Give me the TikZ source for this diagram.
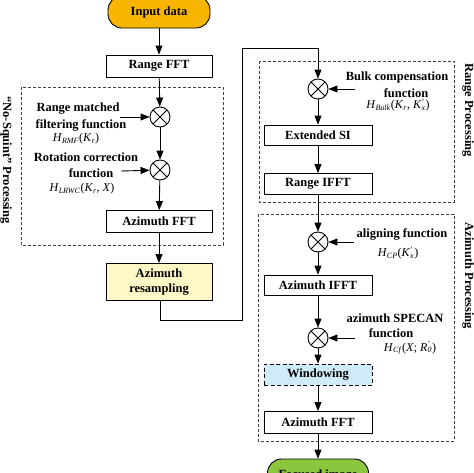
\documentclass[tikz,border=0pt]{standalone}
\usepackage{fontspec}
\setmainfont{Liberation Serif}
\usetikzlibrary{arrows.meta}
\definecolor{inputorange}{HTML}{F7B500}
\definecolor{resyellow}{HTML}{FFF8C6}
\definecolor{winblue}{HTML}{CFEAF8}
\definecolor{outgreen}{HTML}{8CC63F}
\newcommand\itx[1]{\textit{#1}}
\newcommand\subx[1]{\textsubscript{\textit{#1}}}
\newcommand\supsubx[2]{\makebox[0pt][l]{\textsuperscript{#1}}\textsubscript{\textit{#2}}}
\tikzset{
  bx/.style={draw, line width=0.9pt, minimum width=106pt, minimum height=22pt, inner sep=1pt,
    font=\bfseries\fontsize{12.5}{14}\selectfont},
  mult/.style={circle, draw, line width=0.9pt, minimum size=20pt, inner sep=0pt,
    path picture={\draw[line width=0.9pt] (path picture bounding box.north west) -- (path picture bounding box.south east)
      (path picture bounding box.north east) -- (path picture bounding box.south west);}},
  arr/.style={line width=0.9pt, -{Triangle[length=9pt,width=7pt]}},
  ln/.style={line width=0.9pt},
  grp/.style={draw, line width=0.7pt, dash pattern=on 3pt off 2pt, black!75},
  lbl/.style={font=\bfseries\fontsize{12.5}{14}\selectfont, inner sep=0pt},
  mth/.style={font=\fontsize{12}{14}\selectfont, inner sep=0pt},
  side/.style={font=\bfseries\fontsize{12.5}{14}\selectfont, rotate=-90, inner sep=0pt},
}
\begin{document}
\begin{tikzpicture}[x=1pt,y=-1pt]
\useasboundingbox (0,0) rectangle (474,472);
% group boxes
\draw[grp] (21,87) rectangle (223,245);
\draw[grp] (259,61) rectangle (454,202);
\draw[grp] (258,214) rectangle (454,441);
\node[side] (sq) at (6,160) {“No-Squint” Processing};
\node[side] (rp) at (468,110) {Range Processing};
\node[side] (ap) at (468,276) {Azimuth Processing};
% left column
\node[draw, line width=0.9pt, fill=inputorange, rounded corners=14pt, minimum width=102pt, minimum height=32pt,
  font=\bfseries\fontsize{12.5}{14}\selectfont] (in) at (159,12) {Input data};
\node[bx] (rfft) at (159,66) {Range FFT};
\node[mult] (m1) at (160,117) {};
\node[mult] (m2) at (160,170) {};
\node[bx] (afft1) at (159,221.5) {Azimuth FFT};
\node[bx, fill=resyellow, minimum height=37pt, align=center, font=\bfseries\fontsize{12.5}{15}\selectfont] (ares) at (159,282) {Azimuth\\resampling};
% left labels
\node[lbl] (l1a) at (78,109) {Range matched};
\node[lbl] (l1b) at (81,125) {filtering function};
\node[mth] (l1c) at (76,139) {\itx{H}\subx{RMF}(\itx{K}\subx{r})};
\coordinate (l1s) at (120,117);
\node[lbl] (l2a) at (86,157) {Rotation correction};
\node[lbl] (l2b) at (91,173) {function};
\node[mth] (l2c) at (82,189) {\itx{H}\subx{LRWC}(\itx{K}\subx{r}, \itx{X})};
\coordinate (l2s) at (121,171);
% right column
\node[mult] (m3) at (318,89) {};
\node[bx, minimum width=108pt, minimum height=20pt] (esi) at (318,135) {Extended SI};
\node[bx, minimum width=108pt, minimum height=21pt] (rifft) at (318,184) {Range IFFT};
\node[mult] (m4) at (318,242) {};
\node[bx, minimum width=108pt, minimum height=20pt] (aifft) at (318,285) {Azimuth IFFT};
\node[mult] (m5) at (318,338) {};
\node[draw, line width=0.9pt, dash pattern=on 4pt off 2.5pt, fill=winblue, minimum width=108pt, minimum height=21pt,
  font=\bfseries\fontsize{12.5}{14}\selectfont] (win) at (318,374.5) {Windowing};
\node[bx, minimum width=108pt, minimum height=22pt] (afft2) at (318,422.5) {Azimuth FFT};
\node[draw, line width=0.9pt, fill=outgreen, rounded corners=14pt, minimum width=101pt, minimum height=34pt,
  font=\bfseries\fontsize{12.5}{14}\selectfont] (out) at (318,476) {Focused image};
% right labels
\node[lbl] (l3a) at (397,77) {Bulk compensation};
\node[lbl] (l3b) at (406,93) {function};
\node[mth] (l3c) at (398,105) {\itx{H}\subx{Bulk}(\itx{K}\subx{r}, \itx{K}\supsubx{'}{x})};
\coordinate (l3s) at (355,89);
\node[lbl] (l4a) at (402,234) {aligning function};
\node[mth] (l4b) at (398,253) {\itx{H}\subx{CP}(\itx{K}\supsubx{'}{x})};
\coordinate (l4s) at (354,242);
\node[lbl] (l5a) at (395,318) {azimuth SPECAN};
\node[lbl] (l5b) at (391,333) {function};
\node[mth] (l5c) at (410,348) {\itx{H}\subx{Cf}(\itx{X}; \itx{R}\supsubx{'}{0})};
\coordinate (l5s) at (355,338);
% connectors
\draw[arr] (in) -- (rfft);
\draw[arr] (rfft) -- (m1);
\draw[arr] (m1) -- (m2);
\draw[arr] (m2) -- (afft1);
\draw[arr] (afft1) -- (ares);
\draw[arr] (l1s) -- (m1);
\draw[arr] (l2s) -- (m2);
\coordinate (c1) at (160,320);
\coordinate (c2) at (242,320);
\coordinate (c3) at (242,48);
\coordinate (c4) at (318,48);
\draw[ln] (ares.south -| c1) -- (c1) -- (c2) -- (c3) -- (c4);
\draw[arr] (c4) -- (m3);
\draw[arr] (l3s) -- (m3);
\draw[arr] (m3) -- (esi);
\draw[arr] (esi) -- (rifft);
\draw[arr] (rifft) -- (m4);
\draw[arr] (l4s) -- (m4);
\draw[arr] (m4) -- (aifft);
\draw[arr] (aifft) -- (m5);
\draw[arr] (l5s) -- (m5);
\draw[arr] (m5) -- (win);
\draw[arr] (win) -- (afft2);
\draw[arr] (afft2) -- (out);
\end{tikzpicture}
\end{document}
